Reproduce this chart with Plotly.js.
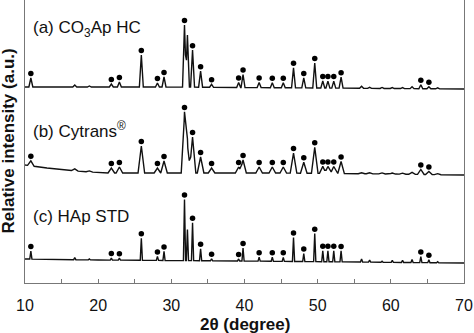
<!DOCTYPE html>
<html><head><meta charset="utf-8">
<script src="https://cdn.plot.ly/plotly-3.0.1.min.js"></script>
<style>html,body{margin:0;padding:0;background:#fff}</style>
</head><body><div id="chart" style="width:474px;height:333px"></div>
<script>
// Marked HAp reflections (2θ, degree)
const markedPeaks = [10.8, 21.8, 22.9, 25.9, 28.1, 29.0, 31.8, 32.9, 34.0, 35.5, 39.2, 39.8, 42.0, 43.8, 45.3, 46.7, 48.1, 49.6, 50.7, 51.4, 52.2, 53.2, 64.1, 65.2];
// Peak heights above baseline (a.u.) for each sample
const heightsA = [9, 3, 5, 32, 4, 10, 62, 37, 16, 3, 5, 13, 5, 5, 5, 20, 10, 25, 7, 7, 7, 11, 4, 2];
const heightsB = [5, 5, 6, 27, 5, 12, 58, 36, 16, 5, 6, 13, 6, 6, 6, 20, 11, 26, 7, 7, 7, 12, 5, 3];
const heightsC = [8, 2, 2, 22, 4, 9, 61, 38, 12, 2, 2, 13, 4, 4, 4, 24, 8, 28, 11, 11, 11, 11, 6, 3];
// Unmarked minor reflections
const minorPeaks = [16.8, 18.8, 32.2, 56.0, 57.1, 58.8, 60.2, 61.6, 62.9, 66.4];
const minorA = [2, 1, 52, 2, 1, 1, 1, 1, 2, 1];
const minorB = [2, 1, 28, 1, 1, 1, 1, 1, 2, 1];
const minorC = [2, 1, 31, 3, 2, 1, 2, 2, 3, 1];
// Baselines: 2θ control points and intensity
const baseA2t = [10, 30, 50, 70];
const baseA = [196, 196, 195, 194];
const baseB2t = [10, 13, 17, 21, 30, 45, 60, 70];
const baseB = [118, 115, 112, 110, 110, 110, 109, 108];
const baseC2t = [10, 20, 40, 55, 70];
const baseC = [24, 23, 22, 21, 20];
// Sample labels
const labels = ['(a) CO<sub>3</sub>Ap HC', '(b) Cytrans<sup>®</sup>', '(c) HAp STD'];
const xTicks = [10, 20, 30, 40, 50, 60, 70];

function interp(xs, ys, x) {
  if (x <= xs[0]) return ys[0];
  for (let i = 1; i < xs.length; i++) {
    if (x <= xs[i]) { const t = (x - xs[i-1]) / (xs[i] - xs[i-1]); return ys[i-1] + t * (ys[i] - ys[i-1]); }
  }
  return ys[ys.length - 1];
}
function pattern(b2t, bI, mh, nh, w) {
  const pk = markedPeaks.map((p, i) => [p, mh[i]]).concat(minorPeaks.map((p, i) => [p, nh[i]]));
  const f = x => interp(b2t, bI, x) + pk.reduce((s, [p, h]) => s + h * Math.max(0, 1 - Math.abs(x - p) / w), 0);
  let xs = b2t.slice();
  pk.forEach(([p]) => xs.push(p - w, p, p + w));
  xs = Array.from(new Set(xs.map(v => +v.toFixed(4)))).filter(v => v >= 10 && v <= 70).sort((a, b) => a - b);
  return { x: xs, y: xs.map(f), f };
}
const A = pattern(baseA2t, baseA, heightsA, minorA, 0.27);
const B = pattern(baseB2t, baseB, heightsB, minorB, 0.45);
const C = pattern(baseC2t, baseC, heightsC, minorC, 0.15);

const traces = [];
[A, B, C].forEach(P => {
  traces.push({ x: P.x, y: P.y, mode: 'lines', line: { color: '#111', width: 1.4 }, hoverinfo: 'skip', showlegend: false });
  traces.push({ x: markedPeaks, y: markedPeaks.map(p => P.f(p) + 4.5), mode: 'markers', marker: { color: '#000', size: 5.5 }, cliponaxis: false, showlegend: false });
});

const font = 'Liberation Sans, Arial, Helvetica, sans-serif';
const layout = {
  width: 474, height: 333,
  margin: { l: 25, r: 10, t: 0, b: 50 },
  paper_bgcolor: '#fff', plot_bgcolor: '#fff',
  font: { family: font, color: '#111' },
  xaxis: {
    range: [10, 70], tickvals: xTicks, ticktext: xTicks.map(String),
    ticks: 'inside', ticklen: 4, tickcolor: '#777', tickwidth: 1,
    minor: { dtick: 5, tick0: 10, ticks: 'inside', ticklen: 4, tickcolor: '#777' },
    showline: true, linecolor: '#777', linewidth: 1,
    showgrid: false, zeroline: false,
    tickfont: { size: 16, family: font, color: '#111' }, ticklabelstandoff: 8
  },
  yaxis: {
    range: [0, 283], showticklabels: false, ticks: '',
    showline: true, mirror: true, linecolor: '#777', linewidth: 1,
    showgrid: false, zeroline: false
  },
  annotations: [
    { text: '<b>2θ (degree)</b>', xref: 'paper', yref: 'paper', x: 0.5, y: 0, yshift: -41, xanchor: 'center', yanchor: 'middle', showarrow: false, font: { size: 17, family: font, color: '#111' } },
    { text: '<b>Relative intensity (a.u.)</b>', xref: 'paper', yref: 'paper', x: 0, xshift: -17, y: 0.5, xanchor: 'center', yanchor: 'middle', textangle: -90, showarrow: false, font: { size: 17, family: font, color: '#111' } },
    { text: labels[0], xref: 'paper', yref: 'paper', x: 0.0137, y: 0.8975, xanchor: 'left', yanchor: 'middle', showarrow: false, font: { size: 17, family: font, color: '#111' } },
    { text: labels[1], xref: 'paper', yref: 'paper', x: 0.0137, y: 0.5406, xanchor: 'left', yanchor: 'middle', showarrow: false, font: { size: 17, family: font, color: '#111' } },
    { text: labels[2], xref: 'paper', yref: 'paper', x: 0.0137, y: 0.2367, xanchor: 'left', yanchor: 'middle', showarrow: false, font: { size: 17, family: font, color: '#111' } }
  ]
};
Plotly.newPlot('chart', traces, layout, { staticPlot: true, displayModeBar: false });
</script></body></html>
